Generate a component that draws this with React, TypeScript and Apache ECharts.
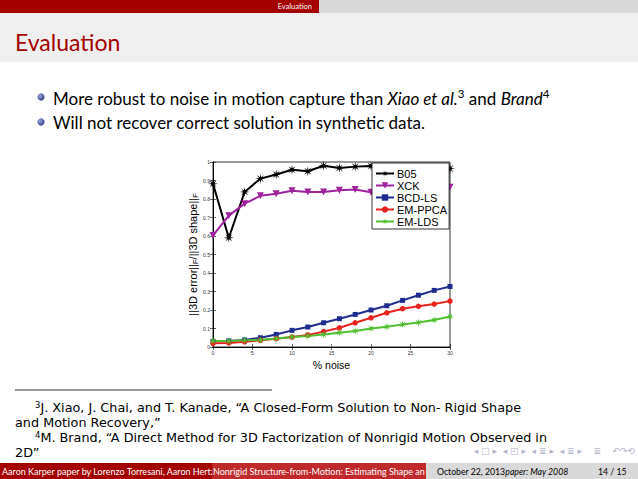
import React, { useEffect, useRef } from "react";
import * as echarts from "echarts";

const noise = [0, 2, 4, 6, 8, 10, 12, 14, 16, 18, 20, 22, 24, 26, 28, 30];
const b05 = [0.882, 0.59, 0.838, 0.91, 0.932, 0.958, 0.95, 0.98, 0.968, 0.975, 0.978, 0.975, 0.974, 0.972, 0.97, 0.964];
const xck = [0.603, 0.71, 0.775, 0.817, 0.828, 0.845, 0.838, 0.838, 0.847, 0.851, 0.836, 0.84, 0.845, 0.85, 0.856, 0.863];
const bcdls = [0.03, 0.033, 0.038, 0.05, 0.068, 0.09, 0.108, 0.131, 0.153, 0.176, 0.2, 0.223, 0.252, 0.28, 0.306, 0.327];
const emppca = [0.02, 0.022, 0.028, 0.036, 0.045, 0.054, 0.065, 0.083, 0.104, 0.131, 0.158, 0.185, 0.207, 0.22, 0.232, 0.248];
const emlds = [0.032, 0.033, 0.037, 0.038, 0.046, 0.054, 0.06, 0.068, 0.077, 0.086, 0.1, 0.11, 0.122, 0.133, 0.146, 0.165];
const seriesNames = ["B05", "XCK", "BCD-LS", "EM-PPCA", "EM-LDS"];
const xTicks = [0, 5, 10, 15, 20, 25, 30];

function starPath(points: number, outer: number, inner: number) {
  let d = "";
  for (let i = 0; i < points * 2; i++) {
    const r = i % 2 === 0 ? outer : inner;
    const a = (Math.PI * i) / points - Math.PI / 2;
    const x = 10 + r * Math.cos(a);
    const y = 10 + r * Math.sin(a);
    d += (i === 0 ? "M" : "L") + x.toFixed(2) + "," + y.toFixed(2) + " ";
  }
  return "path://" + d + "Z";
}

const SANS = "Lato, 'DejaVu Sans', sans-serif";
const FOOTFONT = "'DejaVu Sans', sans-serif";
const ARIAL = "'Liberation Sans', Arial, sans-serif";
const BODY = 17;
const FOOT = 12.8;

export default function App() {
  const ref = useRef<HTMLDivElement>(null);
  useEffect(() => {
    if (!ref.current) return;
    const chart = echarts.init(ref.current, null, { renderer: "svg" });
    const pair = (arr: number[]) => noise.map((x, i) => [x, arr[i]]);
    const star = starPath(8, 9.5, 3);
    const mk = (name: string, arr: number[], color: string, symbol: string, size: number) => ({
      name,
      type: "line",
      data: pair(arr),
      xAxisIndex: 0,
      yAxisIndex: 0,
      symbol,
      symbolSize: size,
      showAllSymbol: true,
      lineStyle: { color, width: 2 },
      itemStyle: { color, borderWidth: 0 },
      emphasis: { disabled: true },
    });
    const barText = (x: number, text: string, fill: string, size: number) => ({
      type: "text",
      x,
      y: 471,
      style: {
        text,
        fill,
        fontFamily: SANS,
        fontSize: size,
        verticalAlign: "middle",
        rich: {
          n: { fontFamily: SANS, fontSize: size, fill },
          i: { fontFamily: SANS, fontSize: size, fontStyle: "italic", fill },
        },
      },
    });
    const footLine = (y: number, x: number, text: string) => ({
      type: "text",
      x,
      y,
      style: {
        text,
        fill: "#000",
        fontFamily: FOOTFONT,
        fontSize: FOOT,
        verticalAlign: "middle",
        rich: {
          n: { fontFamily: FOOTFONT, fontSize: FOOT, lineHeight: 14, verticalAlign: "bottom", fill: "#000" },
          sup: { fontFamily: FOOTFONT, fontSize: 8.5, lineHeight: 14, verticalAlign: "top", fill: "#000" },
        },
      },
    });
    const bulletFill = () =>
      new echarts.graphic.RadialGradient(0.35, 0.35, 0.75, [
        { offset: 0, color: "#9aa6e0" },
        { offset: 1, color: "#26337f" },
      ]);
    chart.setOption({
      animation: false,
      backgroundColor: "#fff",
      grid: {
        left: 213,
        top: 162,
        width: 237,
        height: 185,
        show: true,
        borderColor: "#000",
        borderWidth: 0.8,
        backgroundColor: "#fff",
      },
      legend: {
        data: seriesNames,
        left: 372,
        top: 163,
        orient: "vertical",
        backgroundColor: "#fff",
        borderColor: "#000",
        borderWidth: 0.8,
        padding: [5, 2, 2, 3],
        itemGap: 1,
        itemWidth: 18,
        itemHeight: 8,
        textStyle: { fontSize: 11, fontFamily: ARIAL, color: "#000", padding: [0, 0, 0, -2] },
        selectedMode: false,
      },
      xAxis: [
        {
          type: "value",
          min: 0,
          max: 30,
          interval: 5,
          position: "bottom",
          name: "% noise",
          nameLocation: "middle",
          nameGap: 12,
          nameTextStyle: { fontSize: 10.5, fontFamily: ARIAL, color: "#000" },
          axisLine: { show: true, lineStyle: { color: "#000", width: 0.8 } },
          axisTick: { inside: true, length: 3, lineStyle: { color: "#000", width: 0.6 } },
          axisLabel: {
            fontSize: 5,
            color: "#333",
            margin: 3,
            fontFamily: ARIAL,
            customValues: xTicks,
          },
          splitLine: { show: false },
        },
        {
          type: "value",
          min: 0,
          max: 30,
          interval: 5,
          position: "top",
          axisLine: { show: true, lineStyle: { color: "#000", width: 0.8 } },
          axisTick: { inside: true, length: 3, lineStyle: { color: "#000", width: 0.6 } },
          axisLabel: { show: false },
          splitLine: { show: false },
        },
      ],
      yAxis: [
        {
          type: "value",
          min: 0,
          max: 1,
          interval: 0.1,
          position: "left",
          name: "{a|||3D error||}{s|F}{a|/||3D shape||}{s|F}",
          nameLocation: "middle",
          nameGap: 10,
          nameRotate: 90,
          nameTextStyle: {
            rich: {
              a: { fontSize: 11, fontFamily: ARIAL, color: "#000", lineHeight: 12, verticalAlign: "top" },
              s: { fontSize: 7.5, fontFamily: ARIAL, color: "#000", lineHeight: 12, verticalAlign: "bottom" },
            },
          },
          axisLine: { show: true, lineStyle: { color: "#000", width: 0.8 } },
          axisTick: { inside: true, length: 3, lineStyle: { color: "#000", width: 0.6 } },
          axisLabel: {
            fontSize: 5,
            color: "#333",
            margin: 3,
            fontFamily: ARIAL,
            formatter: (v: number) => String(Math.round(v * 10) / 10),
          },
          splitLine: { show: false },
        },
        {
          type: "value",
          min: 0,
          max: 1,
          interval: 0.1,
          position: "right",
          axisLine: { show: true, lineStyle: { color: "#000", width: 0.8 } },
          axisTick: { inside: true, length: 3, lineStyle: { color: "#000", width: 0.6 } },
          axisLabel: { show: false },
          splitLine: { show: false },
        },
      ],
      series: [
        mk(seriesNames[0], b05, "#000000", star, 10),
        mk(seriesNames[1], xck, "#a0219c", "path://M0,0 L10,0 L5,9 Z", 7),
        mk(seriesNames[2], bcdls, "#1f2a8f", "rect", 5),
        mk(seriesNames[3], emppca, "#e8231d", "circle", 5.5),
        mk(seriesNames[4], emlds, "#4fbf2f", star, 8.5),
      ],
      graphic: [
        // top bar
        { type: "rect", shape: { x: 0, y: 0, width: 319, height: 13 }, style: { fill: "#a50000" } },
        { type: "rect", shape: { x: 319, y: 0, width: 319, height: 13 }, style: { fill: "#d9d9d9" } },
        {
          type: "text",
          x: 312,
          y: 6.5,
          style: { text: "Evaluation", fill: "#fff", fontSize: 7.5, fontFamily: SANS, align: "right", verticalAlign: "middle" },
        },
        // title band
        { type: "rect", shape: { x: 0, y: 13, width: 638, height: 49 }, style: { fill: "#efefef" } },
        {
          type: "text",
          x: 15,
          y: 42,
          style: { text: "Evaluation", fill: "#a50000", fontSize: 23, fontFamily: SANS, verticalAlign: "middle" },
        },
        // bullets
        { type: "circle", shape: { cx: 41, cy: 97, r: 3.6 }, style: { fill: bulletFill() } },
        { type: "circle", shape: { cx: 41, cy: 122, r: 3.6 }, style: { fill: bulletFill() } },
        {
          type: "text",
          x: 53,
          y: 97,
          style: {
            text: "{n|More robust to noise in motion capture than }{i|Xiao et al.}{sup|3}{n| and }{i|Brand}{sup|4}",
            verticalAlign: "middle",
            rich: {
              n: { fontFamily: SANS, fontSize: BODY, lineHeight: 20, verticalAlign: "bottom", fill: "#000" },
              i: { fontFamily: SANS, fontSize: BODY, fontStyle: "italic", lineHeight: 20, verticalAlign: "bottom", fill: "#000" },
              sup: { fontFamily: SANS, fontSize: 11.5, lineHeight: 20, verticalAlign: "top", fill: "#000" },
            },
          },
        },
        {
          type: "text",
          x: 53,
          y: 122,
          style: {
            text: "Will not recover correct solution in synthetic data.",
            fill: "#000",
            fontFamily: SANS,
            fontSize: BODY,
            verticalAlign: "middle",
          },
        },
        // footnotes
        { type: "line", shape: { x1: 15, y1: 390, x2: 272, y2: 390 }, style: { stroke: "#000", lineWidth: 0.8 } },
        footLine(407, 35, "{sup|3}{n|J. Xiao, J. Chai, and T. Kanade, \u201cA Closed-Form Solution to Non- Rigid Shape}"),
        footLine(422, 15, "{n|and Motion Recovery,\u201d}"),
        footLine(437, 35, "{sup|4}{n|M. Brand, \u201cA Direct Method for 3D Factorization of Nonrigid Motion Observed in}"),
        footLine(452, 15, "{n|2D\u201d}"),
        {
          type: "text",
          x: 635,
          y: 451,
          style: {
            text: "\u25c2 \u25a1 \u25b8  \u25c2 \u25f0 \u25b8  \u25c2 \u2263 \u25b8  \u25c2 \u2263 \u25b8    \u2263    \u21b6\u21b7\u27f2",
            fill: "#b4b6c8",
            fontSize: 9,
            fontFamily: "'DejaVu Sans', sans-serif",
            align: "right",
            verticalAlign: "middle",
          },
        },
        // bottom bar
        { type: "rect", shape: { x: 0, y: 463, width: 213, height: 16 }, style: { fill: "#a50000" } },
        barText(2, "{n|Aaron Karper paper by Lorenzo Torresani, Aaron Hertz}", "#fff", 9),
        { type: "rect", shape: { x: 212, y: 463, width: 214, height: 16 }, style: { fill: "#c02a2a" } },
        barText(213, "{n|Nonrigid Structure-from-Motion: Estimating Shape an}", "#fff", 9),
        { type: "rect", shape: { x: 426, y: 463, width: 212, height: 16 }, style: { fill: "#d9d9d9" } },
        barText(437, "{n|October 22, 2013}{i|paper: May 2008}", "#000", 8.7),
        barText(598, "{n|14 / 15}", "#000", 8.7),
      ],
    });
    return () => chart.dispose();
  }, []);
  return (
    <div
      ref={ref}
      style={{ position: "fixed", left: 0, top: 0, width: 638, height: 479 }}
    />
  );
}
